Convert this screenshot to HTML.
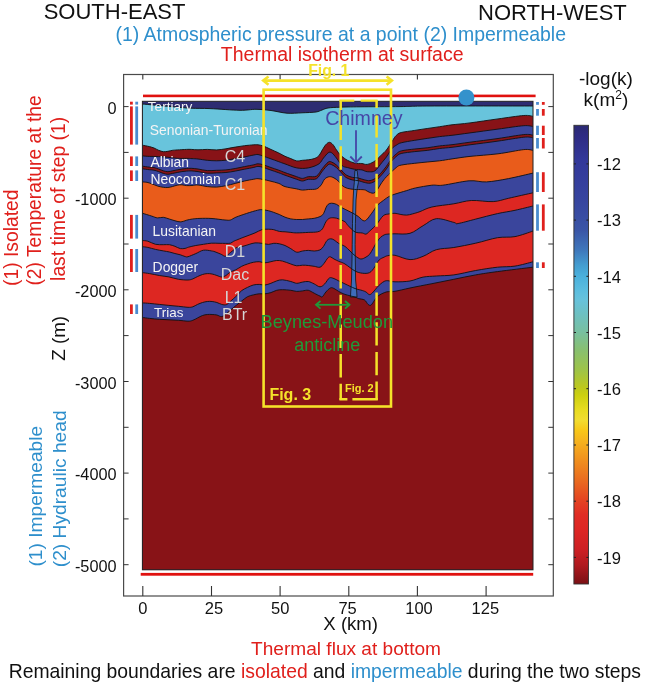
<!DOCTYPE html>
<html><head><meta charset="utf-8"><title>Boundary conditions</title>
<style>html,body{margin:0;padding:0;background:#fff;width:645px;height:685px;overflow:hidden}svg{display:block}</style>
</head><body>
<svg width="645" height="685" viewBox="0 0 645 685">
<defs><linearGradient id="cb" x1="0" y1="0" x2="0" y2="1"><stop offset="0.0000" stop-color="#2b2a72"/><stop offset="0.0211" stop-color="#2e2b82"/><stop offset="0.0756" stop-color="#33389a"/><stop offset="0.1629" stop-color="#37459f"/><stop offset="0.2283" stop-color="#3a55a6"/><stop offset="0.2719" stop-color="#3f77bb"/><stop offset="0.3046" stop-color="#449dd0"/><stop offset="0.3285" stop-color="#4ab0dc"/><stop offset="0.3591" stop-color="#5bbddf"/><stop offset="0.3809" stop-color="#67c2db"/><stop offset="0.4136" stop-color="#6ec0c0"/><stop offset="0.4506" stop-color="#78c0a0"/><stop offset="0.4899" stop-color="#88c070"/><stop offset="0.5335" stop-color="#9ec448"/><stop offset="0.5705" stop-color="#bcc81e"/><stop offset="0.5880" stop-color="#ccd010"/><stop offset="0.6207" stop-color="#e8dc20"/><stop offset="0.6425" stop-color="#f2dd30"/><stop offset="0.6643" stop-color="#f8c818"/><stop offset="0.6861" stop-color="#f6b51e"/><stop offset="0.7297" stop-color="#f0901e"/><stop offset="0.7733" stop-color="#ea6c20"/><stop offset="0.8169" stop-color="#e44422"/><stop offset="0.8496" stop-color="#e02c24"/><stop offset="0.8823" stop-color="#dd2624"/><stop offset="0.9259" stop-color="#cc2024"/><stop offset="0.9586" stop-color="#b01a1f"/><stop offset="0.9869" stop-color="#8a1418"/><stop offset="1.0000" stop-color="#7a1014"/></linearGradient></defs>
<rect width="645" height="685" fill="#fff"/>
<rect x="123.6" y="74.5" width="429.69999999999993" height="521.5" fill="none" stroke="#4a4a4a" stroke-width="1.2"/>
<line x1="123.6" y1="106.6" x2="128.6" y2="106.6" stroke="#333" stroke-width="1"/>
<line x1="553.3" y1="106.6" x2="548.3" y2="106.6" stroke="#333" stroke-width="1"/>
<line x1="123.6" y1="152.4" x2="128.6" y2="152.4" stroke="#333" stroke-width="1"/>
<line x1="553.3" y1="152.4" x2="548.3" y2="152.4" stroke="#333" stroke-width="1"/>
<line x1="123.6" y1="198.2" x2="128.6" y2="198.2" stroke="#333" stroke-width="1"/>
<line x1="553.3" y1="198.2" x2="548.3" y2="198.2" stroke="#333" stroke-width="1"/>
<line x1="123.6" y1="244.0" x2="128.6" y2="244.0" stroke="#333" stroke-width="1"/>
<line x1="553.3" y1="244.0" x2="548.3" y2="244.0" stroke="#333" stroke-width="1"/>
<line x1="123.6" y1="289.8" x2="128.6" y2="289.8" stroke="#333" stroke-width="1"/>
<line x1="553.3" y1="289.8" x2="548.3" y2="289.8" stroke="#333" stroke-width="1"/>
<line x1="123.6" y1="335.6" x2="128.6" y2="335.6" stroke="#333" stroke-width="1"/>
<line x1="553.3" y1="335.6" x2="548.3" y2="335.6" stroke="#333" stroke-width="1"/>
<line x1="123.6" y1="381.5" x2="128.6" y2="381.5" stroke="#333" stroke-width="1"/>
<line x1="553.3" y1="381.5" x2="548.3" y2="381.5" stroke="#333" stroke-width="1"/>
<line x1="123.6" y1="427.3" x2="128.6" y2="427.3" stroke="#333" stroke-width="1"/>
<line x1="553.3" y1="427.3" x2="548.3" y2="427.3" stroke="#333" stroke-width="1"/>
<line x1="123.6" y1="473.1" x2="128.6" y2="473.1" stroke="#333" stroke-width="1"/>
<line x1="553.3" y1="473.1" x2="548.3" y2="473.1" stroke="#333" stroke-width="1"/>
<line x1="123.6" y1="518.9" x2="128.6" y2="518.9" stroke="#333" stroke-width="1"/>
<line x1="553.3" y1="518.9" x2="548.3" y2="518.9" stroke="#333" stroke-width="1"/>
<line x1="123.6" y1="564.7" x2="128.6" y2="564.7" stroke="#333" stroke-width="1"/>
<line x1="553.3" y1="564.7" x2="548.3" y2="564.7" stroke="#333" stroke-width="1"/>
<text x="116.6" y="113.6" text-anchor="end" font-size="16.3" fill="#111" font-family="Liberation Sans, Arial, Helvetica, sans-serif">0</text>
<text x="116.6" y="205.2" text-anchor="end" font-size="16.3" fill="#111" font-family="Liberation Sans, Arial, Helvetica, sans-serif">-1000</text>
<text x="116.6" y="296.8" text-anchor="end" font-size="16.3" fill="#111" font-family="Liberation Sans, Arial, Helvetica, sans-serif">-2000</text>
<text x="116.6" y="388.5" text-anchor="end" font-size="16.3" fill="#111" font-family="Liberation Sans, Arial, Helvetica, sans-serif">-3000</text>
<text x="116.6" y="480.1" text-anchor="end" font-size="16.3" fill="#111" font-family="Liberation Sans, Arial, Helvetica, sans-serif">-4000</text>
<text x="116.6" y="571.7" text-anchor="end" font-size="16.3" fill="#111" font-family="Liberation Sans, Arial, Helvetica, sans-serif">-5000</text>
<line x1="142.8" y1="596.0" x2="142.8" y2="586.0" stroke="#333" stroke-width="1.1"/>
<text x="142.9" y="613.8" text-anchor="middle" font-size="16.5" fill="#111" font-family="Liberation Sans, Arial, Helvetica, sans-serif">0</text>
<line x1="211.5" y1="596.0" x2="211.5" y2="586.0" stroke="#333" stroke-width="1.1"/>
<text x="214.0" y="613.8" text-anchor="middle" font-size="16.5" fill="#111" font-family="Liberation Sans, Arial, Helvetica, sans-serif">25</text>
<line x1="280.1" y1="596.0" x2="280.1" y2="586.0" stroke="#333" stroke-width="1.1"/>
<text x="280.3" y="613.8" text-anchor="middle" font-size="16.5" fill="#111" font-family="Liberation Sans, Arial, Helvetica, sans-serif">50</text>
<line x1="348.8" y1="596.0" x2="348.8" y2="586.0" stroke="#333" stroke-width="1.1"/>
<text x="347.6" y="613.8" text-anchor="middle" font-size="16.5" fill="#111" font-family="Liberation Sans, Arial, Helvetica, sans-serif">75</text>
<line x1="417.4" y1="596.0" x2="417.4" y2="586.0" stroke="#333" stroke-width="1.1"/>
<text x="419.0" y="613.8" text-anchor="middle" font-size="16.5" fill="#111" font-family="Liberation Sans, Arial, Helvetica, sans-serif">100</text>
<line x1="486.1" y1="596.0" x2="486.1" y2="586.0" stroke="#333" stroke-width="1.1"/>
<text x="485.3" y="613.8" text-anchor="middle" font-size="16.5" fill="#111" font-family="Liberation Sans, Arial, Helvetica, sans-serif">125</text>
<line x1="142.8" y1="74.5" x2="142.8" y2="79.5" stroke="#333" stroke-width="1.1"/>
<line x1="280.1" y1="74.5" x2="280.1" y2="79.5" stroke="#333" stroke-width="1.1"/>
<line x1="417.4" y1="74.5" x2="417.4" y2="79.5" stroke="#333" stroke-width="1.1"/>
<rect x="143" y="94.6" width="392.6" height="2.6" fill="#e0110f"/>
<rect x="140.7" y="572.9" width="392.5" height="2.8" fill="#e0110f"/>
<rect x="142.4" y="101.3" width="390.6" height="468.49999999999994" fill="#2e2d72"/>
<path d="M142.4,104.0 C147.2,104.4 162.9,105.9 171.0,106.6 C179.1,107.3 184.5,107.9 191.0,108.2 C197.5,108.5 201.8,108.2 210.0,108.6 C218.2,108.9 232.3,110.2 240.0,110.3 C247.7,110.4 250.8,109.3 256.0,109.3 C261.2,109.3 265.8,109.8 271.0,110.5 C276.2,111.2 281.8,112.8 287.0,113.2 C292.2,113.6 297.2,113.0 302.0,112.8 C306.8,112.6 312.7,112.5 316.0,112.0 C319.3,111.5 320.0,110.7 322.0,110.0 C324.0,109.3 325.0,108.5 328.0,108.0 C331.0,107.5 334.7,107.4 340.0,107.2 C345.3,107.0 350.0,106.9 360.0,106.8 C370.0,106.7 388.3,106.7 400.0,106.6 C411.7,106.5 407.8,106.1 430.0,106.0 C452.2,105.9 515.8,106.0 533.0,106.0 L533.0,569.8 L142.4,569.8 Z" fill="#68c4dc"/>
<path d="M142.4,145.2 C143.6,145.4 147.4,146.1 149.3,146.6 C151.2,147.1 152.4,147.4 154.0,148.0 C155.6,148.6 157.0,149.7 158.6,150.3 C160.2,150.9 161.8,151.5 163.3,151.7 C164.9,151.9 166.4,151.5 167.9,151.3 C169.4,151.1 171.1,150.5 172.6,150.3 C174.1,150.1 174.9,150.1 177.2,149.9 C179.5,149.8 184.2,149.5 186.5,149.4 C188.8,149.3 189.3,149.3 191.2,149.4 C193.1,149.5 195.3,149.8 198.0,149.8 C200.7,149.8 204.2,149.4 207.3,149.4 C210.4,149.4 213.5,150.0 216.6,149.9 C219.7,149.8 222.8,149.3 225.9,148.8 C229.0,148.3 232.1,147.6 235.2,147.1 C238.3,146.6 241.4,146.1 244.5,145.7 C247.6,145.3 251.6,145.0 253.8,144.8 C256.1,144.7 256.4,144.6 258.0,144.8 C259.6,145.0 261.3,145.3 263.3,146.0 C265.3,146.7 267.4,147.8 270.0,149.0 C272.6,150.2 276.3,151.8 278.8,153.0 C281.3,154.2 283.0,155.4 285.0,156.3 C287.0,157.2 288.9,157.8 290.8,158.6 C292.8,159.4 294.8,160.6 296.7,160.9 C298.6,161.2 300.6,160.5 302.5,160.3 C304.4,160.1 306.4,160.1 308.3,159.8 C310.2,159.5 312.4,159.3 314.2,158.6 C316.0,157.9 317.5,157.2 318.9,155.7 C320.3,154.2 321.2,151.7 322.4,149.8 C323.6,148.0 324.7,145.8 325.9,144.6 C327.1,143.3 328.2,142.3 329.4,142.3 C330.6,142.3 331.7,143.3 332.9,144.6 C334.1,145.8 335.2,148.2 336.4,149.8 C337.6,151.5 338.9,153.4 339.9,154.5 C340.9,155.6 341.0,155.7 342.2,156.6 C343.4,157.5 345.2,159.1 347.3,160.2 C349.4,161.3 352.2,162.5 354.6,163.1 C357.0,163.7 360.1,163.3 361.9,163.5 C363.7,163.7 364.3,164.3 365.5,164.4 C366.7,164.5 367.6,164.5 369.2,163.9 C370.8,163.3 372.9,162.4 375.0,160.9 C377.1,159.4 379.8,156.5 381.7,154.7 C383.6,152.9 384.6,152.3 386.4,150.0 C388.2,147.7 390.8,143.2 392.4,140.8 C394.0,138.4 394.7,136.9 396.2,135.5 C397.7,134.1 398.1,133.3 401.2,132.5 C404.3,131.7 410.5,131.1 414.8,130.4 C419.1,129.7 423.1,129.1 427.2,128.5 C431.3,127.9 435.5,127.3 439.6,126.7 C443.7,126.1 446.9,125.4 452.0,124.8 C457.1,124.2 462.3,123.9 470.0,122.9 C477.7,121.9 489.0,120.1 498.0,118.9 C507.0,117.7 518.0,115.9 523.8,115.5 C529.6,115.1 531.5,116.2 533.0,116.3 L533.0,569.8 L142.4,569.8 Z" fill="#881317"/>
<path d="M142.4,155.9 C143.6,156.0 146.6,156.3 149.3,156.4 C152.0,156.5 155.5,156.4 158.6,156.6 C161.7,156.8 164.8,157.0 167.9,157.3 C171.0,157.6 174.1,158.1 177.2,158.3 C180.3,158.5 184.0,158.4 186.5,158.4 C189.0,158.4 190.1,158.5 192.0,158.6 C193.9,158.7 195.4,158.7 198.0,159.0 C200.6,159.3 204.2,160.0 207.3,160.3 C210.4,160.6 213.5,160.8 216.6,160.8 C219.7,160.8 222.8,160.5 225.9,160.2 C229.0,159.8 232.1,159.2 235.2,158.7 C238.3,158.1 241.4,157.5 244.5,156.9 C247.6,156.3 251.6,155.4 253.8,155.0 C256.1,154.6 256.4,154.3 258.0,154.5 C259.6,154.7 261.3,155.5 263.3,156.2 C265.3,156.9 267.4,157.6 270.0,158.5 C272.6,159.4 276.3,160.8 278.8,161.7 C281.3,162.6 282.0,162.9 285.0,163.9 C288.0,164.9 292.8,167.2 296.7,167.9 C300.6,168.6 304.6,168.6 308.3,167.9 C312.0,167.2 316.4,165.6 318.9,163.9 C321.4,162.2 321.9,159.8 323.5,158.0 C325.1,156.2 326.8,153.7 328.2,152.8 C329.6,151.9 330.3,151.9 331.7,152.8 C333.1,153.7 334.6,155.8 336.4,158.0 C338.1,160.2 340.4,164.1 342.2,165.7 C344.0,167.3 345.2,166.9 347.3,167.5 C349.4,168.1 352.2,168.9 354.6,169.3 C357.0,169.7 360.1,169.6 361.9,169.9 C363.7,170.2 364.3,171.0 365.5,171.3 C366.7,171.6 367.6,171.9 369.2,171.8 C370.8,171.7 372.9,172.3 375.0,170.8 C377.1,169.3 379.8,165.1 381.7,162.8 C383.6,160.5 384.6,159.4 386.4,157.0 C388.1,154.6 390.6,150.3 392.2,148.4 C393.8,146.5 394.7,146.2 396.2,145.3 C397.7,144.4 398.1,143.6 401.2,142.8 C404.3,142.0 410.5,141.0 414.8,140.3 C419.1,139.6 423.1,139.0 427.2,138.4 C431.3,137.8 435.5,137.1 439.6,136.6 C443.7,136.1 446.9,135.9 452.0,135.3 C457.1,134.7 462.3,133.9 470.0,132.9 C477.7,131.9 489.0,130.3 498.0,129.1 C507.0,127.9 518.0,126.1 523.8,125.7 C529.6,125.3 531.5,126.4 533.0,126.5 L533.0,569.8 L142.4,569.8 Z" fill="#3a459c"/>
<path d="M142.4,166.2 C143.6,166.3 147.4,166.9 149.3,167.1 C151.2,167.3 152.4,167.3 154.0,167.6 C155.6,167.9 157.0,168.5 158.6,169.0 C160.2,169.5 161.8,170.4 163.3,170.8 C164.9,171.2 166.4,171.7 167.9,171.7 C169.4,171.7 171.1,171.1 172.6,170.8 C174.1,170.5 175.6,170.2 177.2,169.9 C178.8,169.6 180.3,169.2 181.9,169.0 C183.5,168.8 184.9,168.6 186.5,168.5 C188.1,168.4 189.3,168.2 191.2,168.3 C193.1,168.4 195.3,168.6 198.0,169.0 C200.7,169.4 204.2,170.4 207.3,170.6 C210.4,170.8 213.5,170.4 216.6,170.3 C219.7,170.2 222.8,170.2 225.9,169.9 C229.0,169.6 232.1,169.1 235.2,168.5 C238.3,167.9 241.4,167.2 244.5,166.6 C247.6,166.0 251.6,165.3 253.8,164.8 C256.1,164.3 256.4,163.8 258.0,163.8 C259.6,163.8 261.3,164.2 263.3,164.8 C265.3,165.4 267.4,166.3 270.0,167.2 C272.6,168.1 276.3,169.3 278.8,170.2 C281.3,171.1 282.0,171.5 285.0,172.6 C288.0,173.7 293.8,175.7 296.7,176.7 C299.6,177.7 300.6,178.4 302.5,178.4 C304.4,178.4 306.0,177.1 308.3,176.7 C310.6,176.3 314.1,177.5 316.5,176.1 C318.9,174.7 320.4,170.8 322.4,168.5 C324.3,166.2 326.6,163.2 328.2,162.1 C329.8,161.0 330.3,161.6 331.7,162.1 C333.1,162.6 334.8,163.7 336.4,165.0 C337.9,166.3 339.4,168.1 341.0,169.7 C342.6,171.3 344.0,173.5 345.9,174.8 C347.8,176.1 350.4,176.9 352.5,177.4 C354.6,177.9 356.4,177.6 358.3,178.0 C360.2,178.4 362.2,179.4 364.2,179.8 C366.1,180.2 368.1,180.9 370.0,180.6 C371.9,180.3 373.9,179.4 375.9,178.0 C377.8,176.6 379.9,174.1 381.7,172.2 C383.4,170.2 384.6,168.7 386.4,166.3 C388.1,163.9 390.6,160.0 392.2,157.9 C393.8,155.8 394.7,155.2 396.2,154.0 C397.7,152.8 398.1,151.7 401.2,150.9 C404.3,150.1 410.5,149.5 414.8,149.0 C419.1,148.5 423.1,148.3 427.2,147.8 C431.3,147.3 435.5,146.4 439.6,145.9 C443.7,145.4 446.9,145.3 452.0,144.7 C457.1,144.1 462.3,143.2 470.0,142.2 C477.7,141.2 489.0,139.8 498.0,138.5 C507.0,137.2 518.0,135.2 523.8,134.6 C529.6,134.0 531.5,135.0 533.0,135.1 L533.0,569.8 L142.4,569.8 Z" fill="#881317"/>
<path d="M142.4,168.8 C143.6,168.9 147.4,169.5 149.3,169.7 C151.2,169.9 152.4,169.9 154.0,170.2 C155.6,170.5 157.0,171.1 158.6,171.6 C160.2,172.1 161.8,173.0 163.3,173.4 C164.9,173.8 166.4,174.3 167.9,174.3 C169.4,174.3 171.1,173.7 172.6,173.4 C174.1,173.1 175.6,172.8 177.2,172.5 C178.8,172.2 180.3,171.8 181.9,171.6 C183.5,171.4 184.9,171.2 186.5,171.1 C188.1,171.0 189.3,170.8 191.2,170.9 C193.1,171.0 195.3,171.2 198.0,171.6 C200.7,172.0 204.2,173.0 207.3,173.2 C210.4,173.4 213.5,173.0 216.6,172.9 C219.7,172.8 222.8,172.8 225.9,172.5 C229.0,172.2 232.1,171.7 235.2,171.1 C238.3,170.5 241.4,169.8 244.5,169.2 C247.6,168.6 251.6,167.9 253.8,167.4 C256.1,166.9 256.4,166.4 258.0,166.4 C259.6,166.4 261.3,166.8 263.3,167.4 C265.3,168.0 267.4,168.9 270.0,169.8 C272.6,170.7 276.3,171.9 278.8,172.8 C281.3,173.7 282.0,174.1 285.0,175.2 C288.0,176.3 293.8,178.3 296.7,179.3 C299.6,180.3 300.6,181.0 302.5,181.0 C304.4,181.0 306.0,179.7 308.3,179.3 C310.6,178.9 314.1,180.1 316.5,178.7 C318.9,177.3 320.4,173.4 322.4,171.1 C324.3,168.8 326.6,165.8 328.2,164.7 C329.8,163.6 330.3,164.2 331.7,164.7 C333.1,165.2 334.8,166.3 336.4,167.6 C337.9,168.9 339.4,170.7 341.0,172.3 C342.6,173.9 344.0,176.1 345.9,177.4 C347.8,178.7 350.4,179.5 352.5,180.0 C354.6,180.5 356.4,180.2 358.3,180.6 C360.2,181.0 362.2,182.0 364.2,182.4 C366.1,182.8 368.1,183.5 370.0,183.2 C371.9,182.9 373.9,182.0 375.9,180.6 C377.8,179.2 379.9,176.7 381.7,174.8 C383.4,172.8 384.6,171.3 386.4,168.9 C388.1,166.5 390.6,162.6 392.2,160.5 C393.8,158.4 394.7,157.8 396.2,156.6 C397.7,155.4 398.1,154.3 401.2,153.5 C404.3,152.7 410.5,152.1 414.8,151.6 C419.1,151.1 423.1,150.9 427.2,150.4 C431.3,149.9 435.5,149.0 439.6,148.5 C443.7,148.0 446.9,147.9 452.0,147.3 C457.1,146.7 462.3,145.8 470.0,144.8 C477.7,143.8 489.0,142.4 498.0,141.1 C507.0,139.8 518.0,137.8 523.8,137.2 C529.6,136.6 531.5,137.6 533.0,137.7 L533.0,569.8 L142.4,569.8 Z" fill="#3a459c"/>
<path d="M142.4,181.9 C143.2,182.0 145.4,182.0 147.0,182.3 C148.6,182.6 149.9,183.2 151.7,183.8 C153.4,184.4 155.6,185.4 157.5,186.0 C159.4,186.6 161.6,187.1 163.3,187.3 C165.0,187.6 166.4,187.6 167.9,187.5 C169.4,187.4 171.1,186.9 172.6,186.5 C174.1,186.1 175.6,185.5 177.2,185.2 C178.8,184.9 180.3,184.7 181.9,184.8 C183.5,184.9 184.8,185.5 186.5,185.6 C188.2,185.7 190.1,185.6 192.0,185.5 C193.9,185.4 195.4,184.8 198.0,185.0 C200.6,185.2 204.2,186.2 207.3,186.6 C210.4,186.9 213.5,187.2 216.6,187.1 C219.7,186.9 222.8,186.3 225.9,185.7 C229.0,185.1 232.1,184.2 235.2,183.4 C238.3,182.6 241.4,181.7 244.5,181.0 C247.6,180.3 251.6,179.6 253.8,179.2 C256.1,178.8 256.4,178.6 258.0,178.7 C259.6,178.8 261.3,179.1 263.3,179.5 C265.3,179.9 267.4,180.3 270.0,181.0 C272.6,181.7 276.3,182.5 278.8,183.4 C281.3,184.3 282.0,185.7 285.0,186.6 C288.0,187.5 293.8,188.3 296.7,188.9 C299.6,189.5 300.6,190.0 302.5,190.1 C304.4,190.2 306.0,189.7 308.3,189.5 C310.6,189.3 314.4,189.7 316.5,188.9 C318.6,188.1 319.8,186.6 321.2,184.9 C322.6,183.2 323.3,180.4 324.7,179.0 C326.1,177.6 327.8,176.9 329.4,176.7 C330.9,176.5 332.4,177.1 334.0,177.9 C335.6,178.7 337.3,180.1 338.7,181.4 C340.1,182.7 340.8,184.3 342.2,185.5 C343.6,186.7 345.2,187.7 347.3,188.3 C349.4,189.0 352.2,189.2 354.6,189.4 C357.0,189.6 360.1,189.5 361.9,189.6 C363.7,189.7 364.3,189.7 365.5,190.1 C366.7,190.5 367.6,191.8 369.2,192.2 C370.8,192.6 372.9,194.1 375.0,192.5 C377.1,190.9 379.8,185.3 381.7,182.7 C383.6,180.1 384.0,179.3 386.4,176.8 C388.8,174.3 393.7,169.6 396.2,167.6 C398.7,165.6 398.1,165.8 401.2,165.1 C404.3,164.4 410.5,163.8 414.8,163.3 C419.1,162.8 423.1,162.4 427.2,162.0 C431.3,161.6 435.5,161.3 439.6,160.8 C443.7,160.3 446.9,159.6 452.0,158.9 C457.1,158.2 462.3,157.2 470.0,156.4 C477.7,155.6 489.0,154.9 498.0,153.8 C507.0,152.7 518.0,150.2 523.8,149.6 C529.6,149.0 531.5,150.3 533.0,150.4 L533.0,569.8 L142.4,569.8 Z" fill="#e95c1b"/>
<path d="M142.4,213.2 C143.9,213.7 149.2,215.3 151.7,216.1 C154.2,216.9 155.6,217.7 157.5,217.9 C159.4,218.1 161.4,217.1 163.3,217.3 C165.2,217.5 167.2,218.4 169.2,219.0 C171.1,219.6 173.1,220.3 175.0,220.8 C176.9,221.3 179.0,222.0 180.9,221.9 C182.8,221.8 184.8,220.7 186.7,220.2 C188.6,219.7 190.3,219.3 192.5,219.0 C194.7,218.7 196.8,218.5 200.0,218.4 C203.2,218.3 207.8,218.2 212.0,218.5 C216.2,218.8 221.9,219.8 225.0,220.0 C228.1,220.2 228.6,220.5 230.4,220.0 C232.2,219.5 233.2,218.3 235.9,217.2 C238.6,216.1 243.1,214.6 246.7,213.4 C250.3,212.2 255.1,210.8 257.6,210.2 C260.1,209.6 260.1,209.6 261.9,209.7 C263.7,209.8 266.4,210.2 268.4,210.7 C270.4,211.1 272.0,211.8 273.8,212.4 C275.6,213.0 277.4,213.7 279.3,214.5 C281.2,215.3 283.1,216.5 285.0,217.2 C286.9,217.9 288.9,218.5 290.8,218.9 C292.8,219.3 294.8,219.4 296.7,219.5 C298.6,219.6 300.6,219.6 302.5,219.5 C304.4,219.4 306.4,219.1 308.3,218.9 C310.2,218.7 312.2,218.7 314.2,218.3 C316.1,217.9 318.4,217.4 320.0,216.6 C321.6,215.8 322.5,215.2 323.5,213.7 C324.5,212.2 325.1,209.4 325.9,207.8 C326.7,206.2 327.2,205.1 328.2,204.3 C329.2,203.5 330.3,203.2 331.7,203.2 C333.1,203.2 335.0,203.7 336.4,204.3 C337.8,204.9 338.3,205.8 339.9,206.7 C341.5,207.6 343.8,208.6 345.9,209.7 C348.0,210.8 350.4,211.9 352.5,213.0 C354.6,214.1 356.3,215.2 358.3,216.5 C360.3,217.8 362.5,221.4 364.7,220.9 C366.9,220.4 369.6,215.9 371.7,213.3 C373.8,210.7 375.6,207.3 377.5,205.2 C379.4,203.1 381.4,202.0 383.3,200.5 C385.2,199.0 387.2,197.5 389.2,196.4 C391.1,195.3 393.1,194.8 395.0,194.1 C396.9,193.4 398.9,192.9 400.9,192.3 C402.8,191.7 404.3,191.3 406.7,190.6 C409.1,189.9 411.1,188.9 415.3,188.0 C419.5,187.1 427.3,185.7 431.9,185.2 C436.5,184.7 436.6,185.9 442.8,185.2 C449.0,184.5 461.8,181.4 469.1,180.8 C476.4,180.2 480.0,182.3 486.6,181.9 C493.2,181.5 500.8,180.1 508.5,178.6 C516.2,177.1 528.9,174.0 533.0,173.1 L533.0,569.8 L142.4,569.8 Z" fill="#3a459c"/>
<path d="M142.4,240.5 C143.3,240.6 145.6,240.6 147.8,241.2 C150.0,241.8 152.9,243.7 155.5,244.3 C158.1,244.9 161.0,244.6 163.3,244.7 C165.6,244.8 167.6,244.4 169.5,244.7 C171.4,245.0 173.1,245.7 174.9,246.3 C176.7,247.0 178.6,248.2 180.3,248.6 C182.0,248.9 183.6,248.6 185.0,248.4 C186.4,248.2 186.7,247.7 188.5,247.2 C190.3,246.7 193.3,246.0 195.8,245.5 C198.3,245.0 200.9,244.7 203.5,244.3 C206.1,243.9 208.7,243.4 211.3,243.2 C213.9,243.0 216.6,243.3 219.0,243.3 C221.4,243.3 223.6,243.4 225.5,243.4 C227.4,243.4 229.2,243.5 230.5,243.2 C231.8,242.8 232.6,241.8 233.6,241.3 C234.6,240.8 235.1,240.6 236.7,240.0 C238.2,239.4 240.8,238.3 242.9,237.5 C245.0,236.7 247.1,236.0 249.1,235.2 C251.1,234.4 252.9,233.8 255.0,232.9 C257.1,232.0 259.7,230.3 261.9,229.7 C264.1,229.1 266.4,229.2 268.4,229.2 C270.4,229.2 272.0,229.3 273.8,229.7 C275.6,230.1 277.4,231.1 279.3,231.4 C281.2,231.8 283.1,231.6 285.0,231.8 C286.9,232.0 288.9,232.2 290.8,232.4 C292.8,232.6 293.8,232.9 296.7,232.9 C299.6,232.9 304.8,232.6 308.3,232.4 C311.8,232.2 315.4,232.4 317.7,231.8 C320.0,231.2 321.0,230.6 322.4,228.9 C323.8,227.2 324.7,223.6 325.9,221.8 C327.1,220.0 328.0,219.0 329.4,218.3 C330.8,217.6 332.4,217.7 334.0,217.8 C335.6,217.9 336.9,218.2 338.7,218.9 C340.5,219.6 343.4,220.7 345.0,221.8 C346.6,222.9 346.3,223.8 348.0,225.5 C349.7,227.2 352.6,230.7 355.0,231.9 C357.4,233.2 360.5,232.6 362.3,233.0 C364.1,233.4 364.8,234.4 366.0,234.1 C367.2,233.8 368.4,232.2 369.6,231.2 C370.8,230.2 372.0,229.1 373.2,227.9 C374.4,226.7 375.2,226.0 376.9,224.0 C378.6,222.0 381.2,217.4 383.3,215.7 C385.4,214.0 387.2,214.3 389.2,213.9 C391.1,213.5 393.1,213.2 395.0,213.3 C396.9,213.4 398.9,214.2 400.9,214.5 C402.8,214.8 404.8,215.2 406.7,215.1 C408.6,215.0 410.3,214.5 412.5,213.9 C414.7,213.3 416.8,212.8 420.0,211.6 C423.2,210.4 426.3,208.3 431.9,207.0 C437.5,205.7 447.2,204.9 453.8,203.8 C460.4,202.7 464.7,200.9 471.3,200.5 C477.9,200.1 487.0,202.0 493.2,201.6 C499.4,201.2 501.9,199.8 508.5,198.3 C515.1,196.8 528.9,193.7 533.0,192.8 L533.0,569.8 L142.4,569.8 Z" fill="#dd2722"/>
<path d="M142.4,246.7 C143.3,246.8 145.6,246.9 147.8,247.4 C150.0,247.9 152.9,248.8 155.5,249.4 C158.1,250.0 161.0,250.5 163.3,250.9 C165.6,251.3 167.6,251.6 169.5,252.0 C171.4,252.4 173.1,253.0 174.9,253.5 C176.7,254.0 178.6,254.3 180.3,254.8 C182.0,255.3 183.7,256.2 185.0,256.5 C186.3,256.8 186.2,257.2 188.0,256.7 C189.8,256.2 193.2,254.7 195.8,253.6 C198.4,252.5 200.9,250.6 203.5,250.2 C206.1,249.8 209.4,250.6 211.3,250.9 C213.2,251.2 213.3,251.2 215.0,251.8 C216.7,252.4 219.4,253.6 221.2,254.3 C222.9,255.0 223.9,256.5 225.5,256.2 C227.1,255.9 229.2,253.5 230.5,252.5 C231.8,251.5 232.6,250.8 233.6,250.0 C234.6,249.2 235.1,248.1 236.7,247.5 C238.2,246.9 240.8,246.8 242.9,246.3 C245.0,245.8 247.1,245.0 249.1,244.4 C251.1,243.8 252.9,243.1 255.0,242.9 C257.1,242.7 259.7,243.1 261.9,243.3 C264.1,243.6 266.4,244.4 268.4,244.4 C270.4,244.4 272.0,243.4 273.8,243.3 C275.6,243.2 277.4,243.4 279.3,243.8 C281.2,244.2 283.1,244.7 285.0,245.5 C286.9,246.3 288.9,247.6 290.8,248.7 C292.8,249.8 294.8,251.8 296.7,252.2 C298.6,252.6 300.6,251.3 302.5,251.0 C304.4,250.7 306.4,250.4 308.3,250.4 C310.2,250.4 312.2,251.1 314.2,251.0 C316.1,250.9 318.4,250.7 320.0,249.9 C321.6,249.1 322.3,248.0 323.5,246.4 C324.7,244.8 325.8,241.8 327.0,240.5 C328.2,239.2 329.3,238.9 330.5,238.8 C331.7,238.7 332.6,239.1 334.0,239.9 C335.4,240.7 336.9,242.3 338.7,243.4 C340.5,244.5 343.1,245.1 345.0,246.4 C346.9,247.7 348.3,249.4 350.0,251.0 C351.7,252.6 353.2,254.4 355.0,255.7 C356.8,257.0 359.0,258.8 360.8,259.0 C362.6,259.2 364.5,257.9 366.0,257.1 C367.5,256.3 368.4,255.6 369.6,254.2 C370.8,252.8 372.0,250.5 373.2,248.4 C374.4,246.3 375.7,243.6 376.9,241.8 C378.1,240.0 379.3,238.6 380.5,237.4 C381.7,236.2 383.0,235.5 384.2,234.9 C385.4,234.3 386.0,234.3 387.8,234.1 C389.6,233.9 391.3,233.9 395.0,233.8 C398.7,233.7 405.3,234.7 410.0,233.3 C414.7,232.0 418.7,228.1 423.1,225.7 C427.5,223.3 431.2,219.2 436.3,218.7 C441.4,218.1 450.2,221.6 453.8,222.4 C457.4,223.2 454.6,224.1 458.2,223.5 C461.8,222.9 469.1,220.8 475.7,219.1 C482.2,217.4 490.9,215.1 497.5,213.6 C504.1,212.1 509.1,211.6 515.0,210.3 C520.9,209.0 530.0,206.7 533.0,206.0 L533.0,569.8 L142.4,569.8 Z" fill="#3a459c"/>
<path d="M142.4,272.6 C143.6,272.8 146.8,273.1 149.6,273.6 C152.4,274.1 156.1,274.9 159.3,275.5 C162.5,276.1 165.7,276.3 168.9,276.9 C172.1,277.5 175.3,278.8 178.5,279.3 C181.7,279.8 185.6,280.1 188.0,280.0 C190.4,279.9 191.2,279.5 192.8,278.9 C194.4,278.3 196.0,277.2 197.6,276.5 C199.2,275.8 200.9,275.0 202.5,274.5 C204.1,274.0 205.7,273.7 207.3,273.6 C208.9,273.5 210.5,273.7 212.1,274.0 C213.7,274.3 215.3,275.0 216.9,275.5 C218.5,276.0 220.2,277.0 221.7,277.0 C223.2,277.0 224.6,276.3 226.0,275.5 C227.4,274.7 228.4,273.1 230.0,272.2 C231.6,271.2 233.9,270.8 235.8,269.8 C237.8,268.8 239.8,267.3 241.7,266.3 C243.6,265.3 245.6,264.7 247.5,264.0 C249.4,263.3 251.4,262.7 253.3,262.3 C255.2,261.9 257.2,261.6 259.2,261.7 C261.1,261.8 263.1,262.8 265.0,262.8 C266.9,262.8 268.9,262.1 270.9,261.7 C272.8,261.3 274.8,260.6 276.7,260.5 C278.6,260.4 280.1,260.5 282.5,261.1 C284.9,261.7 288.4,263.2 290.8,264.0 C293.2,264.8 294.8,265.6 296.7,265.8 C298.6,266.0 300.6,265.2 302.5,265.2 C304.4,265.1 306.4,265.3 308.3,265.5 C310.2,265.7 312.2,266.0 314.2,266.3 C316.1,266.6 318.4,267.7 320.0,267.2 C321.6,266.7 322.7,265.0 324.0,263.4 C325.3,261.8 326.9,258.9 328.0,257.8 C329.1,256.7 329.5,256.7 330.5,256.9 C331.5,257.1 332.6,258.3 334.0,259.0 C335.4,259.7 336.9,260.5 338.7,261.3 C340.5,262.1 342.3,262.4 345.0,264.0 C347.7,265.6 352.1,269.5 355.0,271.0 C357.9,272.5 359.9,272.9 362.3,273.2 C364.7,273.5 367.5,273.6 369.6,272.6 C371.7,271.6 373.1,269.1 374.7,267.0 C376.3,264.9 377.5,261.6 379.1,260.0 C380.7,258.4 382.8,257.8 384.2,257.1 C385.6,256.4 386.0,256.0 387.8,255.7 C389.6,255.4 391.3,254.7 395.0,255.3 C398.7,256.0 405.3,259.4 410.0,259.6 C414.7,259.8 418.7,258.0 423.1,256.3 C427.5,254.7 431.2,251.2 436.3,249.7 C441.4,248.2 447.2,248.6 453.8,247.5 C460.4,246.4 468.4,244.8 475.7,243.2 C483.0,241.6 490.9,238.8 497.5,237.7 C504.1,236.6 509.1,237.7 515.0,236.6 C520.9,235.5 530.0,232.0 533.0,231.1 L533.0,569.8 L142.4,569.8 Z" fill="#dd2722"/>
<path d="M142.4,302.9 C143.6,303.0 146.8,303.1 149.6,303.4 C152.4,303.6 156.1,304.1 159.3,304.4 C162.5,304.7 165.7,305.1 168.9,305.4 C172.1,305.7 175.3,306.0 178.5,306.3 C181.7,306.6 185.6,307.2 188.0,307.3 C190.4,307.4 191.2,307.3 192.8,306.8 C194.4,306.3 196.0,305.1 197.6,304.4 C199.2,303.7 200.9,303.0 202.5,302.5 C204.1,302.0 205.7,301.7 207.3,301.5 C208.9,301.3 210.5,301.3 212.1,301.5 C213.7,301.7 215.3,302.0 216.9,302.5 C218.5,303.0 220.1,304.0 221.7,304.4 C223.3,304.8 224.9,305.2 226.5,304.6 C228.1,304.0 229.3,302.3 231.0,300.8 C232.7,299.3 234.9,297.5 236.7,295.8 C238.5,294.1 239.9,292.0 241.7,290.6 C243.5,289.2 245.6,288.3 247.5,287.4 C249.4,286.5 251.4,285.5 253.3,285.0 C255.2,284.5 257.2,284.4 259.2,284.4 C261.1,284.4 263.1,285.2 265.0,285.0 C266.9,284.8 268.9,284.0 270.9,283.3 C272.8,282.6 274.8,281.5 276.7,280.9 C278.6,280.3 280.1,279.7 282.5,279.8 C284.9,279.9 288.4,280.9 290.8,281.5 C293.2,282.1 294.8,283.2 296.7,283.3 C298.6,283.4 300.6,282.4 302.5,282.1 C304.4,281.8 306.4,281.2 308.3,281.5 C310.2,281.8 312.2,283.0 314.2,283.9 C316.1,284.8 318.2,286.8 320.0,286.8 C321.8,286.8 323.1,285.4 324.7,283.9 C326.3,282.4 327.8,278.9 329.4,278.0 C330.9,277.1 332.4,278.1 334.0,278.6 C335.6,279.1 336.9,280.0 338.7,280.9 C340.5,281.8 342.3,282.6 345.0,283.9 C347.7,285.2 352.1,287.4 355.0,288.5 C357.9,289.6 360.5,289.9 362.3,290.5 C364.1,291.1 364.8,291.3 366.0,292.0 C367.2,292.7 368.4,294.6 369.6,294.6 C370.8,294.6 372.0,293.2 373.2,292.0 C374.4,290.8 375.7,288.9 376.9,287.6 C378.1,286.3 379.3,285.0 380.5,284.0 C381.7,283.0 383.0,281.9 384.2,281.4 C385.4,280.8 386.0,280.6 387.8,280.7 C389.6,280.8 391.3,281.8 395.0,281.8 C398.7,281.9 405.3,281.8 410.0,281.0 C414.7,280.2 418.7,277.9 423.1,277.1 C427.5,276.3 431.2,276.4 436.3,276.0 C441.4,275.6 447.2,275.8 453.8,274.9 C460.4,274.0 468.4,271.8 475.7,270.5 C483.0,269.2 490.9,267.9 497.5,267.2 C504.1,266.5 509.1,267.0 515.0,266.1 C520.9,265.2 530.0,262.5 533.0,261.8 L533.0,569.8 L142.4,569.8 Z" fill="#3a459c"/>
<path d="M142.4,317.4 C143.6,317.6 146.8,318.1 149.6,318.4 C152.4,318.7 156.1,319.1 159.3,319.3 C162.5,319.5 165.7,319.6 168.9,319.8 C172.1,320.0 175.3,320.1 178.5,320.3 C181.7,320.5 185.6,321.2 188.0,321.2 C190.4,321.2 191.2,320.9 192.8,320.3 C194.4,319.8 196.0,318.7 197.6,317.9 C199.2,317.1 200.9,316.1 202.5,315.5 C204.1,314.9 205.7,314.7 207.3,314.5 C208.9,314.3 210.5,314.4 212.1,314.5 C213.7,314.6 215.3,314.6 216.9,315.0 C218.5,315.4 220.1,316.8 221.7,316.6 C223.3,316.4 224.9,314.8 226.5,313.6 C228.1,312.4 229.3,311.0 231.0,309.6 C232.7,308.2 234.9,306.4 236.7,305.0 C238.5,303.6 239.9,302.4 241.7,301.0 C243.5,299.6 245.6,297.7 247.5,296.7 C249.4,295.7 251.4,295.4 253.3,294.9 C255.2,294.4 257.2,294.0 259.2,293.8 C261.1,293.6 263.1,294.0 265.0,293.8 C266.9,293.6 268.9,293.2 270.9,292.6 C272.8,292.0 274.8,290.8 276.7,290.3 C278.6,289.8 280.1,289.7 282.5,289.7 C284.9,289.7 288.4,290.0 290.8,290.3 C293.2,290.6 294.8,291.3 296.7,291.4 C298.6,291.5 300.6,291.1 302.5,290.9 C304.4,290.7 306.4,289.9 308.3,290.3 C310.2,290.7 312.2,292.2 314.2,293.2 C316.1,294.2 318.6,295.5 320.0,296.1 C321.4,296.7 321.4,297.4 322.4,296.7 C323.4,296.0 324.5,293.5 325.9,292.0 C327.2,290.5 329.1,288.5 330.5,287.9 C331.9,287.3 332.6,287.9 334.0,288.5 C335.4,289.1 336.9,290.4 338.7,291.4 C340.5,292.4 342.3,293.4 345.0,294.4 C347.7,295.3 352.7,296.4 355.0,297.1 C357.3,297.8 357.0,298.1 358.6,298.6 C360.2,299.1 362.9,299.0 364.5,300.0 C366.1,301.0 367.0,303.5 368.1,304.4 C369.2,305.2 369.9,305.8 371.0,305.1 C372.1,304.4 373.5,301.6 374.7,300.0 C375.9,298.4 376.8,296.9 378.4,295.7 C380.0,294.5 382.5,293.4 384.2,292.7 C385.9,292.0 386.8,291.8 388.6,291.6 C390.4,291.4 391.4,291.9 395.0,291.3 C398.6,290.7 403.9,289.3 410.0,288.0 C416.1,286.7 424.6,285.1 431.9,283.7 C439.2,282.2 446.5,280.8 453.8,279.3 C461.1,277.8 468.4,276.2 475.7,274.9 C483.0,273.6 487.9,272.9 497.5,271.6 C507.1,270.3 527.1,267.9 533.0,267.2 L533.0,569.8 L142.4,569.8 Z" fill="#881317"/>
<path d="M354.9,170.5 L354.5,176.7 L354.3,182.5 L353.7,188.4 L353.1,200.0 L352.5,223.4 L352.2,244.4 L352.0,260.0 L351.5,280.0 L350.6,294.0 L350.4,297.0 L357.0,297.0 L356.6,290.0 L355.6,280.0 L355.3,260.0 L355.1,244.4 L355.4,223.4 L356.0,200.0 L357.2,188.4 L358.4,182.5 L357.8,176.7 L357.2,170.5 Z" fill="#3d6cba" stroke="#111" stroke-width="0.8"/>
<path d="M142.4,104.0 C147.2,104.4 162.9,105.9 171.0,106.6 C179.1,107.3 184.5,107.9 191.0,108.2 C197.5,108.5 201.8,108.2 210.0,108.6 C218.2,108.9 232.3,110.2 240.0,110.3 C247.7,110.4 250.8,109.3 256.0,109.3 C261.2,109.3 265.8,109.8 271.0,110.5 C276.2,111.2 281.8,112.8 287.0,113.2 C292.2,113.6 297.2,113.0 302.0,112.8 C306.8,112.6 312.7,112.5 316.0,112.0 C319.3,111.5 320.0,110.7 322.0,110.0 C324.0,109.3 325.0,108.5 328.0,108.0 C331.0,107.5 334.7,107.4 340.0,107.2 C345.3,107.0 350.0,106.9 360.0,106.8 C370.0,106.7 388.3,106.7 400.0,106.6 C411.7,106.5 407.8,106.1 430.0,106.0 C452.2,105.9 515.8,106.0 533.0,106.0" fill="none" stroke="#111" stroke-width="0.9"/>
<path d="M142.4,145.2 C143.6,145.4 147.4,146.1 149.3,146.6 C151.2,147.1 152.4,147.4 154.0,148.0 C155.6,148.6 157.0,149.7 158.6,150.3 C160.2,150.9 161.8,151.5 163.3,151.7 C164.9,151.9 166.4,151.5 167.9,151.3 C169.4,151.1 171.1,150.5 172.6,150.3 C174.1,150.1 174.9,150.1 177.2,149.9 C179.5,149.8 184.2,149.5 186.5,149.4 C188.8,149.3 189.3,149.3 191.2,149.4 C193.1,149.5 195.3,149.8 198.0,149.8 C200.7,149.8 204.2,149.4 207.3,149.4 C210.4,149.4 213.5,150.0 216.6,149.9 C219.7,149.8 222.8,149.3 225.9,148.8 C229.0,148.3 232.1,147.6 235.2,147.1 C238.3,146.6 241.4,146.1 244.5,145.7 C247.6,145.3 251.6,145.0 253.8,144.8 C256.1,144.7 256.4,144.6 258.0,144.8 C259.6,145.0 261.3,145.3 263.3,146.0 C265.3,146.7 267.4,147.8 270.0,149.0 C272.6,150.2 276.3,151.8 278.8,153.0 C281.3,154.2 283.0,155.4 285.0,156.3 C287.0,157.2 288.9,157.8 290.8,158.6 C292.8,159.4 294.8,160.6 296.7,160.9 C298.6,161.2 300.6,160.5 302.5,160.3 C304.4,160.1 306.4,160.1 308.3,159.8 C310.2,159.5 312.4,159.3 314.2,158.6 C316.0,157.9 317.5,157.2 318.9,155.7 C320.3,154.2 321.2,151.7 322.4,149.8 C323.6,148.0 324.7,145.8 325.9,144.6 C327.1,143.3 328.2,142.3 329.4,142.3 C330.6,142.3 331.7,143.3 332.9,144.6 C334.1,145.8 335.2,148.2 336.4,149.8 C337.6,151.5 338.9,153.4 339.9,154.5 C340.9,155.6 341.0,155.7 342.2,156.6 C343.4,157.5 345.2,159.1 347.3,160.2 C349.4,161.3 352.2,162.5 354.6,163.1 C357.0,163.7 360.1,163.3 361.9,163.5 C363.7,163.7 364.3,164.3 365.5,164.4 C366.7,164.5 367.6,164.5 369.2,163.9 C370.8,163.3 372.9,162.4 375.0,160.9 C377.1,159.4 379.8,156.5 381.7,154.7 C383.6,152.9 384.6,152.3 386.4,150.0 C388.2,147.7 390.8,143.2 392.4,140.8 C394.0,138.4 394.7,136.9 396.2,135.5 C397.7,134.1 398.1,133.3 401.2,132.5 C404.3,131.7 410.5,131.1 414.8,130.4 C419.1,129.7 423.1,129.1 427.2,128.5 C431.3,127.9 435.5,127.3 439.6,126.7 C443.7,126.1 446.9,125.4 452.0,124.8 C457.1,124.2 462.3,123.9 470.0,122.9 C477.7,121.9 489.0,120.1 498.0,118.9 C507.0,117.7 518.0,115.9 523.8,115.5 C529.6,115.1 531.5,116.2 533.0,116.3" fill="none" stroke="#111" stroke-width="0.9"/>
<path d="M142.4,155.9 C143.6,156.0 146.6,156.3 149.3,156.4 C152.0,156.5 155.5,156.4 158.6,156.6 C161.7,156.8 164.8,157.0 167.9,157.3 C171.0,157.6 174.1,158.1 177.2,158.3 C180.3,158.5 184.0,158.4 186.5,158.4 C189.0,158.4 190.1,158.5 192.0,158.6 C193.9,158.7 195.4,158.7 198.0,159.0 C200.6,159.3 204.2,160.0 207.3,160.3 C210.4,160.6 213.5,160.8 216.6,160.8 C219.7,160.8 222.8,160.5 225.9,160.2 C229.0,159.8 232.1,159.2 235.2,158.7 C238.3,158.1 241.4,157.5 244.5,156.9 C247.6,156.3 251.6,155.4 253.8,155.0 C256.1,154.6 256.4,154.3 258.0,154.5 C259.6,154.7 261.3,155.5 263.3,156.2 C265.3,156.9 267.4,157.6 270.0,158.5 C272.6,159.4 276.3,160.8 278.8,161.7 C281.3,162.6 282.0,162.9 285.0,163.9 C288.0,164.9 292.8,167.2 296.7,167.9 C300.6,168.6 304.6,168.6 308.3,167.9 C312.0,167.2 316.4,165.6 318.9,163.9 C321.4,162.2 321.9,159.8 323.5,158.0 C325.1,156.2 326.8,153.7 328.2,152.8 C329.6,151.9 330.3,151.9 331.7,152.8 C333.1,153.7 334.6,155.8 336.4,158.0 C338.1,160.2 340.4,164.1 342.2,165.7 C344.0,167.3 345.2,166.9 347.3,167.5 C349.4,168.1 352.2,168.9 354.6,169.3 C357.0,169.7 360.1,169.6 361.9,169.9 C363.7,170.2 364.3,171.0 365.5,171.3 C366.7,171.6 367.6,171.9 369.2,171.8 C370.8,171.7 372.9,172.3 375.0,170.8 C377.1,169.3 379.8,165.1 381.7,162.8 C383.6,160.5 384.6,159.4 386.4,157.0 C388.1,154.6 390.6,150.3 392.2,148.4 C393.8,146.5 394.7,146.2 396.2,145.3 C397.7,144.4 398.1,143.6 401.2,142.8 C404.3,142.0 410.5,141.0 414.8,140.3 C419.1,139.6 423.1,139.0 427.2,138.4 C431.3,137.8 435.5,137.1 439.6,136.6 C443.7,136.1 446.9,135.9 452.0,135.3 C457.1,134.7 462.3,133.9 470.0,132.9 C477.7,131.9 489.0,130.3 498.0,129.1 C507.0,127.9 518.0,126.1 523.8,125.7 C529.6,125.3 531.5,126.4 533.0,126.5" fill="none" stroke="#111" stroke-width="0.9"/>
<path d="M142.4,166.2 C143.6,166.3 147.4,166.9 149.3,167.1 C151.2,167.3 152.4,167.3 154.0,167.6 C155.6,167.9 157.0,168.5 158.6,169.0 C160.2,169.5 161.8,170.4 163.3,170.8 C164.9,171.2 166.4,171.7 167.9,171.7 C169.4,171.7 171.1,171.1 172.6,170.8 C174.1,170.5 175.6,170.2 177.2,169.9 C178.8,169.6 180.3,169.2 181.9,169.0 C183.5,168.8 184.9,168.6 186.5,168.5 C188.1,168.4 189.3,168.2 191.2,168.3 C193.1,168.4 195.3,168.6 198.0,169.0 C200.7,169.4 204.2,170.4 207.3,170.6 C210.4,170.8 213.5,170.4 216.6,170.3 C219.7,170.2 222.8,170.2 225.9,169.9 C229.0,169.6 232.1,169.1 235.2,168.5 C238.3,167.9 241.4,167.2 244.5,166.6 C247.6,166.0 251.6,165.3 253.8,164.8 C256.1,164.3 256.4,163.8 258.0,163.8 C259.6,163.8 261.3,164.2 263.3,164.8 C265.3,165.4 267.4,166.3 270.0,167.2 C272.6,168.1 276.3,169.3 278.8,170.2 C281.3,171.1 282.0,171.5 285.0,172.6 C288.0,173.7 293.8,175.7 296.7,176.7 C299.6,177.7 300.6,178.4 302.5,178.4 C304.4,178.4 306.0,177.1 308.3,176.7 C310.6,176.3 314.1,177.5 316.5,176.1 C318.9,174.7 320.4,170.8 322.4,168.5 C324.3,166.2 326.6,163.2 328.2,162.1 C329.8,161.0 330.3,161.6 331.7,162.1 C333.1,162.6 334.8,163.7 336.4,165.0 C337.9,166.3 339.4,168.1 341.0,169.7 C342.6,171.3 344.0,173.5 345.9,174.8 C347.8,176.1 350.4,176.9 352.5,177.4 C354.6,177.9 356.4,177.6 358.3,178.0 C360.2,178.4 362.2,179.4 364.2,179.8 C366.1,180.2 368.1,180.9 370.0,180.6 C371.9,180.3 373.9,179.4 375.9,178.0 C377.8,176.6 379.9,174.1 381.7,172.2 C383.4,170.2 384.6,168.7 386.4,166.3 C388.1,163.9 390.6,160.0 392.2,157.9 C393.8,155.8 394.7,155.2 396.2,154.0 C397.7,152.8 398.1,151.7 401.2,150.9 C404.3,150.1 410.5,149.5 414.8,149.0 C419.1,148.5 423.1,148.3 427.2,147.8 C431.3,147.3 435.5,146.4 439.6,145.9 C443.7,145.4 446.9,145.3 452.0,144.7 C457.1,144.1 462.3,143.2 470.0,142.2 C477.7,141.2 489.0,139.8 498.0,138.5 C507.0,137.2 518.0,135.2 523.8,134.6 C529.6,134.0 531.5,135.0 533.0,135.1" fill="none" stroke="#111" stroke-width="0.9"/>
<path d="M142.4,168.8 C143.6,168.9 147.4,169.5 149.3,169.7 C151.2,169.9 152.4,169.9 154.0,170.2 C155.6,170.5 157.0,171.1 158.6,171.6 C160.2,172.1 161.8,173.0 163.3,173.4 C164.9,173.8 166.4,174.3 167.9,174.3 C169.4,174.3 171.1,173.7 172.6,173.4 C174.1,173.1 175.6,172.8 177.2,172.5 C178.8,172.2 180.3,171.8 181.9,171.6 C183.5,171.4 184.9,171.2 186.5,171.1 C188.1,171.0 189.3,170.8 191.2,170.9 C193.1,171.0 195.3,171.2 198.0,171.6 C200.7,172.0 204.2,173.0 207.3,173.2 C210.4,173.4 213.5,173.0 216.6,172.9 C219.7,172.8 222.8,172.8 225.9,172.5 C229.0,172.2 232.1,171.7 235.2,171.1 C238.3,170.5 241.4,169.8 244.5,169.2 C247.6,168.6 251.6,167.9 253.8,167.4 C256.1,166.9 256.4,166.4 258.0,166.4 C259.6,166.4 261.3,166.8 263.3,167.4 C265.3,168.0 267.4,168.9 270.0,169.8 C272.6,170.7 276.3,171.9 278.8,172.8 C281.3,173.7 282.0,174.1 285.0,175.2 C288.0,176.3 293.8,178.3 296.7,179.3 C299.6,180.3 300.6,181.0 302.5,181.0 C304.4,181.0 306.0,179.7 308.3,179.3 C310.6,178.9 314.1,180.1 316.5,178.7 C318.9,177.3 320.4,173.4 322.4,171.1 C324.3,168.8 326.6,165.8 328.2,164.7 C329.8,163.6 330.3,164.2 331.7,164.7 C333.1,165.2 334.8,166.3 336.4,167.6 C337.9,168.9 339.4,170.7 341.0,172.3 C342.6,173.9 344.0,176.1 345.9,177.4 C347.8,178.7 350.4,179.5 352.5,180.0 C354.6,180.5 356.4,180.2 358.3,180.6 C360.2,181.0 362.2,182.0 364.2,182.4 C366.1,182.8 368.1,183.5 370.0,183.2 C371.9,182.9 373.9,182.0 375.9,180.6 C377.8,179.2 379.9,176.7 381.7,174.8 C383.4,172.8 384.6,171.3 386.4,168.9 C388.1,166.5 390.6,162.6 392.2,160.5 C393.8,158.4 394.7,157.8 396.2,156.6 C397.7,155.4 398.1,154.3 401.2,153.5 C404.3,152.7 410.5,152.1 414.8,151.6 C419.1,151.1 423.1,150.9 427.2,150.4 C431.3,149.9 435.5,149.0 439.6,148.5 C443.7,148.0 446.9,147.9 452.0,147.3 C457.1,146.7 462.3,145.8 470.0,144.8 C477.7,143.8 489.0,142.4 498.0,141.1 C507.0,139.8 518.0,137.8 523.8,137.2 C529.6,136.6 531.5,137.6 533.0,137.7" fill="none" stroke="#111" stroke-width="0.9"/>
<path d="M142.4,181.9 C143.2,182.0 145.4,182.0 147.0,182.3 C148.6,182.6 149.9,183.2 151.7,183.8 C153.4,184.4 155.6,185.4 157.5,186.0 C159.4,186.6 161.6,187.1 163.3,187.3 C165.0,187.6 166.4,187.6 167.9,187.5 C169.4,187.4 171.1,186.9 172.6,186.5 C174.1,186.1 175.6,185.5 177.2,185.2 C178.8,184.9 180.3,184.7 181.9,184.8 C183.5,184.9 184.8,185.5 186.5,185.6 C188.2,185.7 190.1,185.6 192.0,185.5 C193.9,185.4 195.4,184.8 198.0,185.0 C200.6,185.2 204.2,186.2 207.3,186.6 C210.4,186.9 213.5,187.2 216.6,187.1 C219.7,186.9 222.8,186.3 225.9,185.7 C229.0,185.1 232.1,184.2 235.2,183.4 C238.3,182.6 241.4,181.7 244.5,181.0 C247.6,180.3 251.6,179.6 253.8,179.2 C256.1,178.8 256.4,178.6 258.0,178.7 C259.6,178.8 261.3,179.1 263.3,179.5 C265.3,179.9 267.4,180.3 270.0,181.0 C272.6,181.7 276.3,182.5 278.8,183.4 C281.3,184.3 282.0,185.7 285.0,186.6 C288.0,187.5 293.8,188.3 296.7,188.9 C299.6,189.5 300.6,190.0 302.5,190.1 C304.4,190.2 306.0,189.7 308.3,189.5 C310.6,189.3 314.4,189.7 316.5,188.9 C318.6,188.1 319.8,186.6 321.2,184.9 C322.6,183.2 323.3,180.4 324.7,179.0 C326.1,177.6 327.8,176.9 329.4,176.7 C330.9,176.5 332.4,177.1 334.0,177.9 C335.6,178.7 337.3,180.1 338.7,181.4 C340.1,182.7 340.8,184.3 342.2,185.5 C343.6,186.7 345.2,187.7 347.3,188.3 C349.4,189.0 352.2,189.2 354.6,189.4 C357.0,189.6 360.1,189.5 361.9,189.6 C363.7,189.7 364.3,189.7 365.5,190.1 C366.7,190.5 367.6,191.8 369.2,192.2 C370.8,192.6 372.9,194.1 375.0,192.5 C377.1,190.9 379.8,185.3 381.7,182.7 C383.6,180.1 384.0,179.3 386.4,176.8 C388.8,174.3 393.7,169.6 396.2,167.6 C398.7,165.6 398.1,165.8 401.2,165.1 C404.3,164.4 410.5,163.8 414.8,163.3 C419.1,162.8 423.1,162.4 427.2,162.0 C431.3,161.6 435.5,161.3 439.6,160.8 C443.7,160.3 446.9,159.6 452.0,158.9 C457.1,158.2 462.3,157.2 470.0,156.4 C477.7,155.6 489.0,154.9 498.0,153.8 C507.0,152.7 518.0,150.2 523.8,149.6 C529.6,149.0 531.5,150.3 533.0,150.4" fill="none" stroke="#111" stroke-width="0.9"/>
<path d="M142.4,213.2 C143.9,213.7 149.2,215.3 151.7,216.1 C154.2,216.9 155.6,217.7 157.5,217.9 C159.4,218.1 161.4,217.1 163.3,217.3 C165.2,217.5 167.2,218.4 169.2,219.0 C171.1,219.6 173.1,220.3 175.0,220.8 C176.9,221.3 179.0,222.0 180.9,221.9 C182.8,221.8 184.8,220.7 186.7,220.2 C188.6,219.7 190.3,219.3 192.5,219.0 C194.7,218.7 196.8,218.5 200.0,218.4 C203.2,218.3 207.8,218.2 212.0,218.5 C216.2,218.8 221.9,219.8 225.0,220.0 C228.1,220.2 228.6,220.5 230.4,220.0 C232.2,219.5 233.2,218.3 235.9,217.2 C238.6,216.1 243.1,214.6 246.7,213.4 C250.3,212.2 255.1,210.8 257.6,210.2 C260.1,209.6 260.1,209.6 261.9,209.7 C263.7,209.8 266.4,210.2 268.4,210.7 C270.4,211.1 272.0,211.8 273.8,212.4 C275.6,213.0 277.4,213.7 279.3,214.5 C281.2,215.3 283.1,216.5 285.0,217.2 C286.9,217.9 288.9,218.5 290.8,218.9 C292.8,219.3 294.8,219.4 296.7,219.5 C298.6,219.6 300.6,219.6 302.5,219.5 C304.4,219.4 306.4,219.1 308.3,218.9 C310.2,218.7 312.2,218.7 314.2,218.3 C316.1,217.9 318.4,217.4 320.0,216.6 C321.6,215.8 322.5,215.2 323.5,213.7 C324.5,212.2 325.1,209.4 325.9,207.8 C326.7,206.2 327.2,205.1 328.2,204.3 C329.2,203.5 330.3,203.2 331.7,203.2 C333.1,203.2 335.0,203.7 336.4,204.3 C337.8,204.9 338.3,205.8 339.9,206.7 C341.5,207.6 343.8,208.6 345.9,209.7 C348.0,210.8 350.4,211.9 352.5,213.0 C354.6,214.1 356.3,215.2 358.3,216.5 C360.3,217.8 362.5,221.4 364.7,220.9 C366.9,220.4 369.6,215.9 371.7,213.3 C373.8,210.7 375.6,207.3 377.5,205.2 C379.4,203.1 381.4,202.0 383.3,200.5 C385.2,199.0 387.2,197.5 389.2,196.4 C391.1,195.3 393.1,194.8 395.0,194.1 C396.9,193.4 398.9,192.9 400.9,192.3 C402.8,191.7 404.3,191.3 406.7,190.6 C409.1,189.9 411.1,188.9 415.3,188.0 C419.5,187.1 427.3,185.7 431.9,185.2 C436.5,184.7 436.6,185.9 442.8,185.2 C449.0,184.5 461.8,181.4 469.1,180.8 C476.4,180.2 480.0,182.3 486.6,181.9 C493.2,181.5 500.8,180.1 508.5,178.6 C516.2,177.1 528.9,174.0 533.0,173.1" fill="none" stroke="#111" stroke-width="0.9"/>
<path d="M142.4,240.5 C143.3,240.6 145.6,240.6 147.8,241.2 C150.0,241.8 152.9,243.7 155.5,244.3 C158.1,244.9 161.0,244.6 163.3,244.7 C165.6,244.8 167.6,244.4 169.5,244.7 C171.4,245.0 173.1,245.7 174.9,246.3 C176.7,247.0 178.6,248.2 180.3,248.6 C182.0,248.9 183.6,248.6 185.0,248.4 C186.4,248.2 186.7,247.7 188.5,247.2 C190.3,246.7 193.3,246.0 195.8,245.5 C198.3,245.0 200.9,244.7 203.5,244.3 C206.1,243.9 208.7,243.4 211.3,243.2 C213.9,243.0 216.6,243.3 219.0,243.3 C221.4,243.3 223.6,243.4 225.5,243.4 C227.4,243.4 229.2,243.5 230.5,243.2 C231.8,242.8 232.6,241.8 233.6,241.3 C234.6,240.8 235.1,240.6 236.7,240.0 C238.2,239.4 240.8,238.3 242.9,237.5 C245.0,236.7 247.1,236.0 249.1,235.2 C251.1,234.4 252.9,233.8 255.0,232.9 C257.1,232.0 259.7,230.3 261.9,229.7 C264.1,229.1 266.4,229.2 268.4,229.2 C270.4,229.2 272.0,229.3 273.8,229.7 C275.6,230.1 277.4,231.1 279.3,231.4 C281.2,231.8 283.1,231.6 285.0,231.8 C286.9,232.0 288.9,232.2 290.8,232.4 C292.8,232.6 293.8,232.9 296.7,232.9 C299.6,232.9 304.8,232.6 308.3,232.4 C311.8,232.2 315.4,232.4 317.7,231.8 C320.0,231.2 321.0,230.6 322.4,228.9 C323.8,227.2 324.7,223.6 325.9,221.8 C327.1,220.0 328.0,219.0 329.4,218.3 C330.8,217.6 332.4,217.7 334.0,217.8 C335.6,217.9 336.9,218.2 338.7,218.9 C340.5,219.6 343.4,220.7 345.0,221.8 C346.6,222.9 346.3,223.8 348.0,225.5 C349.7,227.2 352.6,230.7 355.0,231.9 C357.4,233.2 360.5,232.6 362.3,233.0 C364.1,233.4 364.8,234.4 366.0,234.1 C367.2,233.8 368.4,232.2 369.6,231.2 C370.8,230.2 372.0,229.1 373.2,227.9 C374.4,226.7 375.2,226.0 376.9,224.0 C378.6,222.0 381.2,217.4 383.3,215.7 C385.4,214.0 387.2,214.3 389.2,213.9 C391.1,213.5 393.1,213.2 395.0,213.3 C396.9,213.4 398.9,214.2 400.9,214.5 C402.8,214.8 404.8,215.2 406.7,215.1 C408.6,215.0 410.3,214.5 412.5,213.9 C414.7,213.3 416.8,212.8 420.0,211.6 C423.2,210.4 426.3,208.3 431.9,207.0 C437.5,205.7 447.2,204.9 453.8,203.8 C460.4,202.7 464.7,200.9 471.3,200.5 C477.9,200.1 487.0,202.0 493.2,201.6 C499.4,201.2 501.9,199.8 508.5,198.3 C515.1,196.8 528.9,193.7 533.0,192.8" fill="none" stroke="#111" stroke-width="0.9"/>
<path d="M142.4,246.7 C143.3,246.8 145.6,246.9 147.8,247.4 C150.0,247.9 152.9,248.8 155.5,249.4 C158.1,250.0 161.0,250.5 163.3,250.9 C165.6,251.3 167.6,251.6 169.5,252.0 C171.4,252.4 173.1,253.0 174.9,253.5 C176.7,254.0 178.6,254.3 180.3,254.8 C182.0,255.3 183.7,256.2 185.0,256.5 C186.3,256.8 186.2,257.2 188.0,256.7 C189.8,256.2 193.2,254.7 195.8,253.6 C198.4,252.5 200.9,250.6 203.5,250.2 C206.1,249.8 209.4,250.6 211.3,250.9 C213.2,251.2 213.3,251.2 215.0,251.8 C216.7,252.4 219.4,253.6 221.2,254.3 C222.9,255.0 223.9,256.5 225.5,256.2 C227.1,255.9 229.2,253.5 230.5,252.5 C231.8,251.5 232.6,250.8 233.6,250.0 C234.6,249.2 235.1,248.1 236.7,247.5 C238.2,246.9 240.8,246.8 242.9,246.3 C245.0,245.8 247.1,245.0 249.1,244.4 C251.1,243.8 252.9,243.1 255.0,242.9 C257.1,242.7 259.7,243.1 261.9,243.3 C264.1,243.6 266.4,244.4 268.4,244.4 C270.4,244.4 272.0,243.4 273.8,243.3 C275.6,243.2 277.4,243.4 279.3,243.8 C281.2,244.2 283.1,244.7 285.0,245.5 C286.9,246.3 288.9,247.6 290.8,248.7 C292.8,249.8 294.8,251.8 296.7,252.2 C298.6,252.6 300.6,251.3 302.5,251.0 C304.4,250.7 306.4,250.4 308.3,250.4 C310.2,250.4 312.2,251.1 314.2,251.0 C316.1,250.9 318.4,250.7 320.0,249.9 C321.6,249.1 322.3,248.0 323.5,246.4 C324.7,244.8 325.8,241.8 327.0,240.5 C328.2,239.2 329.3,238.9 330.5,238.8 C331.7,238.7 332.6,239.1 334.0,239.9 C335.4,240.7 336.9,242.3 338.7,243.4 C340.5,244.5 343.1,245.1 345.0,246.4 C346.9,247.7 348.3,249.4 350.0,251.0 C351.7,252.6 353.2,254.4 355.0,255.7 C356.8,257.0 359.0,258.8 360.8,259.0 C362.6,259.2 364.5,257.9 366.0,257.1 C367.5,256.3 368.4,255.6 369.6,254.2 C370.8,252.8 372.0,250.5 373.2,248.4 C374.4,246.3 375.7,243.6 376.9,241.8 C378.1,240.0 379.3,238.6 380.5,237.4 C381.7,236.2 383.0,235.5 384.2,234.9 C385.4,234.3 386.0,234.3 387.8,234.1 C389.6,233.9 391.3,233.9 395.0,233.8 C398.7,233.7 405.3,234.7 410.0,233.3 C414.7,232.0 418.7,228.1 423.1,225.7 C427.5,223.3 431.2,219.2 436.3,218.7 C441.4,218.1 450.2,221.6 453.8,222.4 C457.4,223.2 454.6,224.1 458.2,223.5 C461.8,222.9 469.1,220.8 475.7,219.1 C482.2,217.4 490.9,215.1 497.5,213.6 C504.1,212.1 509.1,211.6 515.0,210.3 C520.9,209.0 530.0,206.7 533.0,206.0" fill="none" stroke="#111" stroke-width="0.9"/>
<path d="M142.4,272.6 C143.6,272.8 146.8,273.1 149.6,273.6 C152.4,274.1 156.1,274.9 159.3,275.5 C162.5,276.1 165.7,276.3 168.9,276.9 C172.1,277.5 175.3,278.8 178.5,279.3 C181.7,279.8 185.6,280.1 188.0,280.0 C190.4,279.9 191.2,279.5 192.8,278.9 C194.4,278.3 196.0,277.2 197.6,276.5 C199.2,275.8 200.9,275.0 202.5,274.5 C204.1,274.0 205.7,273.7 207.3,273.6 C208.9,273.5 210.5,273.7 212.1,274.0 C213.7,274.3 215.3,275.0 216.9,275.5 C218.5,276.0 220.2,277.0 221.7,277.0 C223.2,277.0 224.6,276.3 226.0,275.5 C227.4,274.7 228.4,273.1 230.0,272.2 C231.6,271.2 233.9,270.8 235.8,269.8 C237.8,268.8 239.8,267.3 241.7,266.3 C243.6,265.3 245.6,264.7 247.5,264.0 C249.4,263.3 251.4,262.7 253.3,262.3 C255.2,261.9 257.2,261.6 259.2,261.7 C261.1,261.8 263.1,262.8 265.0,262.8 C266.9,262.8 268.9,262.1 270.9,261.7 C272.8,261.3 274.8,260.6 276.7,260.5 C278.6,260.4 280.1,260.5 282.5,261.1 C284.9,261.7 288.4,263.2 290.8,264.0 C293.2,264.8 294.8,265.6 296.7,265.8 C298.6,266.0 300.6,265.2 302.5,265.2 C304.4,265.1 306.4,265.3 308.3,265.5 C310.2,265.7 312.2,266.0 314.2,266.3 C316.1,266.6 318.4,267.7 320.0,267.2 C321.6,266.7 322.7,265.0 324.0,263.4 C325.3,261.8 326.9,258.9 328.0,257.8 C329.1,256.7 329.5,256.7 330.5,256.9 C331.5,257.1 332.6,258.3 334.0,259.0 C335.4,259.7 336.9,260.5 338.7,261.3 C340.5,262.1 342.3,262.4 345.0,264.0 C347.7,265.6 352.1,269.5 355.0,271.0 C357.9,272.5 359.9,272.9 362.3,273.2 C364.7,273.5 367.5,273.6 369.6,272.6 C371.7,271.6 373.1,269.1 374.7,267.0 C376.3,264.9 377.5,261.6 379.1,260.0 C380.7,258.4 382.8,257.8 384.2,257.1 C385.6,256.4 386.0,256.0 387.8,255.7 C389.6,255.4 391.3,254.7 395.0,255.3 C398.7,256.0 405.3,259.4 410.0,259.6 C414.7,259.8 418.7,258.0 423.1,256.3 C427.5,254.7 431.2,251.2 436.3,249.7 C441.4,248.2 447.2,248.6 453.8,247.5 C460.4,246.4 468.4,244.8 475.7,243.2 C483.0,241.6 490.9,238.8 497.5,237.7 C504.1,236.6 509.1,237.7 515.0,236.6 C520.9,235.5 530.0,232.0 533.0,231.1" fill="none" stroke="#111" stroke-width="0.9"/>
<path d="M142.4,302.9 C143.6,303.0 146.8,303.1 149.6,303.4 C152.4,303.6 156.1,304.1 159.3,304.4 C162.5,304.7 165.7,305.1 168.9,305.4 C172.1,305.7 175.3,306.0 178.5,306.3 C181.7,306.6 185.6,307.2 188.0,307.3 C190.4,307.4 191.2,307.3 192.8,306.8 C194.4,306.3 196.0,305.1 197.6,304.4 C199.2,303.7 200.9,303.0 202.5,302.5 C204.1,302.0 205.7,301.7 207.3,301.5 C208.9,301.3 210.5,301.3 212.1,301.5 C213.7,301.7 215.3,302.0 216.9,302.5 C218.5,303.0 220.1,304.0 221.7,304.4 C223.3,304.8 224.9,305.2 226.5,304.6 C228.1,304.0 229.3,302.3 231.0,300.8 C232.7,299.3 234.9,297.5 236.7,295.8 C238.5,294.1 239.9,292.0 241.7,290.6 C243.5,289.2 245.6,288.3 247.5,287.4 C249.4,286.5 251.4,285.5 253.3,285.0 C255.2,284.5 257.2,284.4 259.2,284.4 C261.1,284.4 263.1,285.2 265.0,285.0 C266.9,284.8 268.9,284.0 270.9,283.3 C272.8,282.6 274.8,281.5 276.7,280.9 C278.6,280.3 280.1,279.7 282.5,279.8 C284.9,279.9 288.4,280.9 290.8,281.5 C293.2,282.1 294.8,283.2 296.7,283.3 C298.6,283.4 300.6,282.4 302.5,282.1 C304.4,281.8 306.4,281.2 308.3,281.5 C310.2,281.8 312.2,283.0 314.2,283.9 C316.1,284.8 318.2,286.8 320.0,286.8 C321.8,286.8 323.1,285.4 324.7,283.9 C326.3,282.4 327.8,278.9 329.4,278.0 C330.9,277.1 332.4,278.1 334.0,278.6 C335.6,279.1 336.9,280.0 338.7,280.9 C340.5,281.8 342.3,282.6 345.0,283.9 C347.7,285.2 352.1,287.4 355.0,288.5 C357.9,289.6 360.5,289.9 362.3,290.5 C364.1,291.1 364.8,291.3 366.0,292.0 C367.2,292.7 368.4,294.6 369.6,294.6 C370.8,294.6 372.0,293.2 373.2,292.0 C374.4,290.8 375.7,288.9 376.9,287.6 C378.1,286.3 379.3,285.0 380.5,284.0 C381.7,283.0 383.0,281.9 384.2,281.4 C385.4,280.8 386.0,280.6 387.8,280.7 C389.6,280.8 391.3,281.8 395.0,281.8 C398.7,281.9 405.3,281.8 410.0,281.0 C414.7,280.2 418.7,277.9 423.1,277.1 C427.5,276.3 431.2,276.4 436.3,276.0 C441.4,275.6 447.2,275.8 453.8,274.9 C460.4,274.0 468.4,271.8 475.7,270.5 C483.0,269.2 490.9,267.9 497.5,267.2 C504.1,266.5 509.1,267.0 515.0,266.1 C520.9,265.2 530.0,262.5 533.0,261.8" fill="none" stroke="#111" stroke-width="0.9"/>
<path d="M142.4,317.4 C143.6,317.6 146.8,318.1 149.6,318.4 C152.4,318.7 156.1,319.1 159.3,319.3 C162.5,319.5 165.7,319.6 168.9,319.8 C172.1,320.0 175.3,320.1 178.5,320.3 C181.7,320.5 185.6,321.2 188.0,321.2 C190.4,321.2 191.2,320.9 192.8,320.3 C194.4,319.8 196.0,318.7 197.6,317.9 C199.2,317.1 200.9,316.1 202.5,315.5 C204.1,314.9 205.7,314.7 207.3,314.5 C208.9,314.3 210.5,314.4 212.1,314.5 C213.7,314.6 215.3,314.6 216.9,315.0 C218.5,315.4 220.1,316.8 221.7,316.6 C223.3,316.4 224.9,314.8 226.5,313.6 C228.1,312.4 229.3,311.0 231.0,309.6 C232.7,308.2 234.9,306.4 236.7,305.0 C238.5,303.6 239.9,302.4 241.7,301.0 C243.5,299.6 245.6,297.7 247.5,296.7 C249.4,295.7 251.4,295.4 253.3,294.9 C255.2,294.4 257.2,294.0 259.2,293.8 C261.1,293.6 263.1,294.0 265.0,293.8 C266.9,293.6 268.9,293.2 270.9,292.6 C272.8,292.0 274.8,290.8 276.7,290.3 C278.6,289.8 280.1,289.7 282.5,289.7 C284.9,289.7 288.4,290.0 290.8,290.3 C293.2,290.6 294.8,291.3 296.7,291.4 C298.6,291.5 300.6,291.1 302.5,290.9 C304.4,290.7 306.4,289.9 308.3,290.3 C310.2,290.7 312.2,292.2 314.2,293.2 C316.1,294.2 318.6,295.5 320.0,296.1 C321.4,296.7 321.4,297.4 322.4,296.7 C323.4,296.0 324.5,293.5 325.9,292.0 C327.2,290.5 329.1,288.5 330.5,287.9 C331.9,287.3 332.6,287.9 334.0,288.5 C335.4,289.1 336.9,290.4 338.7,291.4 C340.5,292.4 342.3,293.4 345.0,294.4 C347.7,295.3 352.7,296.4 355.0,297.1 C357.3,297.8 357.0,298.1 358.6,298.6 C360.2,299.1 362.9,299.0 364.5,300.0 C366.1,301.0 367.0,303.5 368.1,304.4 C369.2,305.2 369.9,305.8 371.0,305.1 C372.1,304.4 373.5,301.6 374.7,300.0 C375.9,298.4 376.8,296.9 378.4,295.7 C380.0,294.5 382.5,293.4 384.2,292.7 C385.9,292.0 386.8,291.8 388.6,291.6 C390.4,291.4 391.4,291.9 395.0,291.3 C398.6,290.7 403.9,289.3 410.0,288.0 C416.1,286.7 424.6,285.1 431.9,283.7 C439.2,282.2 446.5,280.8 453.8,279.3 C461.1,277.8 468.4,276.2 475.7,274.9 C483.0,273.6 487.9,272.9 497.5,271.6 C507.1,270.3 527.1,267.9 533.0,267.2" fill="none" stroke="#111" stroke-width="0.9"/>
<rect x="142.4" y="101.3" width="390.6" height="468.49999999999994" fill="none" stroke="#222" stroke-width="1"/>
<rect x="130" y="101.7" width="2.8" height="2.9" fill="#e0201c"/>
<rect x="135.3" y="101.7" width="2.8" height="2.9" fill="#4a8ccf"/>
<rect x="130" y="106.4" width="2.8" height="38.2" fill="#e0201c"/>
<rect x="135.3" y="106.4" width="2.8" height="38.2" fill="#4a8ccf"/>
<rect x="130" y="156.4" width="2.8" height="9.6" fill="#e0201c"/>
<rect x="135.3" y="156.4" width="2.8" height="9.6" fill="#4a8ccf"/>
<rect x="130" y="170.4" width="2.8" height="10.6" fill="#e0201c"/>
<rect x="135.3" y="170.4" width="2.8" height="10.6" fill="#4a8ccf"/>
<rect x="130" y="214.9" width="2.8" height="23.7" fill="#e0201c"/>
<rect x="135.3" y="214.9" width="2.8" height="23.7" fill="#4a8ccf"/>
<rect x="130" y="249.0" width="2.8" height="23.0" fill="#e0201c"/>
<rect x="135.3" y="249.0" width="2.8" height="23.0" fill="#4a8ccf"/>
<rect x="130" y="304.4" width="2.8" height="9.6" fill="#e0201c"/>
<rect x="135.3" y="304.4" width="2.8" height="9.6" fill="#4a8ccf"/>
<rect x="536.1" y="102.0" width="2.8" height="2.8" fill="#4a8ccf"/>
<rect x="541.9" y="102.0" width="2.8" height="2.8" fill="#e0201c"/>
<rect x="536.1" y="109.0" width="2.8" height="6.7" fill="#4a8ccf"/>
<rect x="541.9" y="109.0" width="2.8" height="6.7" fill="#e0201c"/>
<rect x="536.1" y="125.7" width="2.8" height="9.3" fill="#4a8ccf"/>
<rect x="541.9" y="125.7" width="2.8" height="9.3" fill="#e0201c"/>
<rect x="536.1" y="138.0" width="2.8" height="10.5" fill="#4a8ccf"/>
<rect x="541.9" y="138.0" width="2.8" height="10.5" fill="#e0201c"/>
<rect x="536.1" y="172.2" width="2.8" height="19.8" fill="#4a8ccf"/>
<rect x="541.9" y="172.2" width="2.8" height="19.8" fill="#e0201c"/>
<rect x="536.1" y="204.4" width="2.8" height="26.3" fill="#4a8ccf"/>
<rect x="541.9" y="204.4" width="2.8" height="26.3" fill="#e0201c"/>
<rect x="536.1" y="262.3" width="2.8" height="5.7" fill="#4a8ccf"/>
<rect x="541.9" y="262.3" width="2.8" height="5.7" fill="#e0201c"/>
<circle cx="466.4" cy="97.5" r="8" fill="#3492cc"/>
<text x="147.8" y="110.8" font-size="13.6" fill="#f4f4f4" font-family="Liberation Sans, Arial, Helvetica, sans-serif">Tertiary</text>
<text x="149.8" y="135.2" font-size="13.9" fill="#f4f4f4" font-family="Liberation Sans, Arial, Helvetica, sans-serif">Senonian-Turonian</text>
<text x="150.4" y="166.6" font-size="13.9" fill="#f4f4f4" font-family="Liberation Sans, Arial, Helvetica, sans-serif">Albian</text>
<text x="150.4" y="183.6" font-size="13.9" fill="#f4f4f4" font-family="Liberation Sans, Arial, Helvetica, sans-serif">Neocomian</text>
<text x="152.6" y="236.3" font-size="13.9" fill="#f4f4f4" font-family="Liberation Sans, Arial, Helvetica, sans-serif">Lusitanian</text>
<text x="152.6" y="271.9" font-size="13.9" fill="#f4f4f4" font-family="Liberation Sans, Arial, Helvetica, sans-serif">Dogger</text>
<text x="154.1" y="317" font-size="13.4" fill="#f4f4f4" font-family="Liberation Sans, Arial, Helvetica, sans-serif">Trias</text>
<text x="224.7" y="161.9" font-size="16" fill="#d6d6d6" font-family="Liberation Sans, Arial, Helvetica, sans-serif">C4</text>
<text x="224.7" y="189.9" font-size="16" fill="#d6d6d6" font-family="Liberation Sans, Arial, Helvetica, sans-serif">C1</text>
<text x="224.7" y="257.3" font-size="16" fill="#d6d6d6" font-family="Liberation Sans, Arial, Helvetica, sans-serif">D1</text>
<text x="220.7" y="279.7" font-size="16" fill="#d6d6d6" font-family="Liberation Sans, Arial, Helvetica, sans-serif">Dac</text>
<text x="224.7" y="302.9" font-size="16" fill="#d6d6d6" font-family="Liberation Sans, Arial, Helvetica, sans-serif">L1</text>
<text x="222" y="320.3" font-size="16" fill="#d6d6d6" font-family="Liberation Sans, Arial, Helvetica, sans-serif">BTr</text>
<rect x="263.6" y="89.7" width="127.4" height="316.8" fill="none" stroke="#f5e22a" stroke-width="2.6"/>
<line x1="339.4" y1="100.6" x2="377.6" y2="100.6" stroke="#f5e22a" stroke-width="2.4" stroke-dasharray="14.9 6.4 17"/>
<line x1="340.7" y1="100" x2="340.7" y2="400" stroke="#f5e22a" stroke-width="2.5" stroke-dasharray="40 6.2 23.5 6.2 23.5 6.2 23.5 6.2 23.5 6.2 23.5 6.2 23.5 6.2 23.5 6.2 23.5 6.2 23.5 6.2 23.5 6.2 23.5 6.2"/>
<line x1="376.6" y1="100" x2="376.6" y2="400" stroke="#f5e22a" stroke-width="2.5" stroke-dasharray="7.9 6.4 23.3 6.4 23.3 6.4 23.3 6.4 23.3 6.4 23.3 6.4 23.3 6.4 23.3 6.4 23.3 6.4 23.3 6.4 23.3 6.4 23.3 6.4"/>
<line x1="339.4" y1="399.3" x2="377.8" y2="399.3" stroke="#f5e22a" stroke-width="2.4" stroke-dasharray="8 5 30"/>
<line x1="264" y1="80.6" x2="391" y2="80.6" stroke="#f5e22a" stroke-width="2.6"/>
<polyline points="268.5,76.4 263.2,80.6 268.5,84.8" fill="none" stroke="#f5e22a" stroke-width="2.6" stroke-linejoin="miter"/>
<polyline points="386.6,76.4 391.9,80.6 386.6,84.8" fill="none" stroke="#f5e22a" stroke-width="2.6" stroke-linejoin="miter"/>
<text x="328.8" y="76" text-anchor="middle" font-size="15.8" font-weight="bold" fill="#f5e22a" font-family="Liberation Sans, Arial, Helvetica, sans-serif">Fig. 1</text>
<text x="269.4" y="400.3" font-size="16" font-weight="bold" fill="#f5e22a" font-family="Liberation Sans, Arial, Helvetica, sans-serif">Fig. 3</text>
<text x="345" y="392.2" font-size="11" font-weight="bold" fill="#f5e22a" font-family="Liberation Sans, Arial, Helvetica, sans-serif">Fig. 2</text>
<text x="325.2" y="125" font-size="19.6" fill="#4646a6" font-family="Liberation Sans, Arial, Helvetica, sans-serif">Chimney</text>
<line x1="356" y1="130.3" x2="356" y2="161.5" stroke="#4646a6" stroke-width="1.8"/>
<polyline points="350.3,156.5 356,162.4 361.8,156.5" fill="none" stroke="#4646a6" stroke-width="1.8"/>
<text x="326.8" y="327.9" text-anchor="middle" font-size="18.2" fill="#1f9a38" font-family="Liberation Sans, Arial, Helvetica, sans-serif">Beynes-Meudon</text>
<text x="327.3" y="350.7" text-anchor="middle" font-size="18" fill="#1f9a38" font-family="Liberation Sans, Arial, Helvetica, sans-serif">anticline</text>
<line x1="317" y1="304.8" x2="348.5" y2="304.8" stroke="#1f9a38" stroke-width="1.8"/>
<polyline points="320.5,301 316,304.8 320.5,308.6" fill="none" stroke="#1f9a38" stroke-width="1.8"/>
<polyline points="345,301 349.5,304.8 345,308.6" fill="none" stroke="#1f9a38" stroke-width="1.8"/>
<rect x="573.9" y="125.3" width="14.6" height="458.7" fill="url(#cb)" stroke="#333" stroke-width="0.9"/>
<line x1="573.9" y1="163.9" x2="576" y2="163.9" stroke="#222" stroke-width="1"/>
<line x1="586.4" y1="163.9" x2="588.5" y2="163.9" stroke="#222" stroke-width="1"/>
<text x="597" y="170.1" font-size="16.6" fill="#111" font-family="Liberation Sans, Arial, Helvetica, sans-serif">-12</text>
<line x1="573.9" y1="220.1" x2="576" y2="220.1" stroke="#222" stroke-width="1"/>
<line x1="586.4" y1="220.1" x2="588.5" y2="220.1" stroke="#222" stroke-width="1"/>
<text x="597" y="226.3" font-size="16.6" fill="#111" font-family="Liberation Sans, Arial, Helvetica, sans-serif">-13</text>
<line x1="573.9" y1="276.3" x2="576" y2="276.3" stroke="#222" stroke-width="1"/>
<line x1="586.4" y1="276.3" x2="588.5" y2="276.3" stroke="#222" stroke-width="1"/>
<text x="597" y="282.5" font-size="16.6" fill="#111" font-family="Liberation Sans, Arial, Helvetica, sans-serif">-14</text>
<line x1="573.9" y1="332.5" x2="576" y2="332.5" stroke="#222" stroke-width="1"/>
<line x1="586.4" y1="332.5" x2="588.5" y2="332.5" stroke="#222" stroke-width="1"/>
<text x="597" y="338.7" font-size="16.6" fill="#111" font-family="Liberation Sans, Arial, Helvetica, sans-serif">-15</text>
<line x1="573.9" y1="388.7" x2="576" y2="388.7" stroke="#222" stroke-width="1"/>
<line x1="586.4" y1="388.7" x2="588.5" y2="388.7" stroke="#222" stroke-width="1"/>
<text x="597" y="394.9" font-size="16.6" fill="#111" font-family="Liberation Sans, Arial, Helvetica, sans-serif">-16</text>
<line x1="573.9" y1="445.0" x2="576" y2="445.0" stroke="#222" stroke-width="1"/>
<line x1="586.4" y1="445.0" x2="588.5" y2="445.0" stroke="#222" stroke-width="1"/>
<text x="597" y="451.2" font-size="16.6" fill="#111" font-family="Liberation Sans, Arial, Helvetica, sans-serif">-17</text>
<line x1="573.9" y1="501.2" x2="576" y2="501.2" stroke="#222" stroke-width="1"/>
<line x1="586.4" y1="501.2" x2="588.5" y2="501.2" stroke="#222" stroke-width="1"/>
<text x="597" y="507.4" font-size="16.6" fill="#111" font-family="Liberation Sans, Arial, Helvetica, sans-serif">-18</text>
<line x1="573.9" y1="557.4" x2="576" y2="557.4" stroke="#222" stroke-width="1"/>
<line x1="586.4" y1="557.4" x2="588.5" y2="557.4" stroke="#222" stroke-width="1"/>
<text x="597" y="563.6" font-size="16.6" fill="#111" font-family="Liberation Sans, Arial, Helvetica, sans-serif">-19</text>
<text x="605.9" y="84.5" text-anchor="middle" font-size="19" fill="#111" font-family="Liberation Sans, Arial, Helvetica, sans-serif">-log(k)</text>
<text x="605.9" y="106" text-anchor="middle" font-size="19" fill="#111" font-family="Liberation Sans, Arial, Helvetica, sans-serif">k(m<tspan font-size="12" dy="-7">2</tspan><tspan dy="7">)</tspan></text>
<text x="43.7" y="19.4" font-size="22" fill="#111" font-family="Liberation Sans, Arial, Helvetica, sans-serif">SOUTH-EAST</text>
<text x="478.1" y="19.7" font-size="22" fill="#111" font-family="Liberation Sans, Arial, Helvetica, sans-serif">NORTH-WEST</text>
<text x="115.5" y="40.8" font-size="19.45" fill="#2e8fcc" font-family="Liberation Sans, Arial, Helvetica, sans-serif">(1) Atmospheric pressure at a point (2) Impermeable</text>
<text x="220.8" y="61" font-size="19.5" fill="#e0201c" font-family="Liberation Sans, Arial, Helvetica, sans-serif">Thermal isotherm at surface</text>
<text transform="translate(18.2,286.0) rotate(-90)" font-size="19.3" fill="#e0201c" font-family="Liberation Sans, Arial, Helvetica, sans-serif">(1) Isolated</text>
<text transform="translate(41.0,285.6) rotate(-90)" font-size="19.3" fill="#e0201c" font-family="Liberation Sans, Arial, Helvetica, sans-serif">(2) Temperature at the</text>
<text transform="translate(65.2,280.9) rotate(-90)" font-size="19.3" fill="#e0201c" font-family="Liberation Sans, Arial, Helvetica, sans-serif">last time of step (1)</text>
<text transform="translate(41.6,566.6) rotate(-90)" font-size="19.2" fill="#2e8fcc" font-family="Liberation Sans, Arial, Helvetica, sans-serif">(1) Impermeable</text>
<text transform="translate(66.0,567.2) rotate(-90)" font-size="19.2" fill="#2e8fcc" font-family="Liberation Sans, Arial, Helvetica, sans-serif">(2) Hydraulic head</text>
<text transform="translate(65.0,360.8) rotate(-90)" font-size="18.8" fill="#111" font-family="Liberation Sans, Arial, Helvetica, sans-serif">Z (m)</text>
<text x="350.7" y="629.7" text-anchor="middle" font-size="18.6" fill="#111" font-family="Liberation Sans, Arial, Helvetica, sans-serif">X (km)</text>
<text x="346" y="655.3" text-anchor="middle" font-size="19.1" fill="#e0201c" font-family="Liberation Sans, Arial, Helvetica, sans-serif">Thermal flux at bottom</text>
<text x="8.7" y="677.5" font-size="19.35" fill="#111" font-family="Liberation Sans, Arial, Helvetica, sans-serif">Remaining boundaries are <tspan fill="#e0201c">isolated</tspan> and <tspan fill="#2e8fcc">impermeable</tspan> during the two steps</text>
</svg>
</body></html>
